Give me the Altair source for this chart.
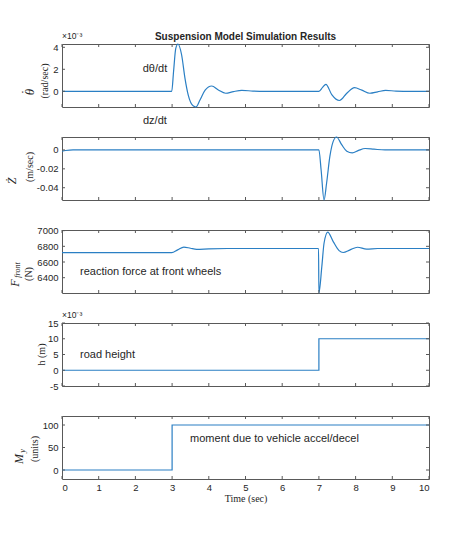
import altair as alt
import pandas as pd

# ---------------- data ----------------
X_TICKS = [0, 1, 2, 3, 4, 5, 6, 7, 8, 9, 10]

# Panel 1: pitch rate d(theta)/dt, in units of 1e-3 rad/sec
theta_t = [0, 2.99, 3.04, 3.10, 3.16, 3.26, 3.35, 3.44, 3.58, 3.65, 3.76, 3.90, 4.08,
           4.26, 4.46, 4.67, 4.90, 5.20, 5.50, 6.0, 7.0, 7.10, 7.19, 7.35, 7.56, 7.76,
           7.97, 8.17, 8.39, 8.60, 8.82, 9.10, 9.50, 10]
theta_v = [0, 0, 1.8, 3.9, 4.3, 3.3, 1.2, -0.35, -1.35, -1.43, -0.8, 0.1, 0.48,
           0.12, -0.18, -0.03, 0.08, 0.02, -0.01, 0, 0, 0.35, 0.63, -0.3, -0.84, -0.18,
           0.33, 0.1, -0.18, -0.05, 0.08, 0.02, 0, 0]
theta_ticks = [0, 2, 4]
theta_domain = [-1.43, 4.3]

# Panel 2: heave rate dz/dt (m/sec)
z_t = [0, 0.1, 0.3, 7.0, 7.06, 7.14, 7.21, 7.30, 7.39, 7.48, 7.62, 7.76, 7.91,
       8.08, 8.26, 8.50, 8.80, 10]
z_v = [-0.0012, -0.0006, 0, 0, -0.021, -0.053, -0.035, -0.0066, 0.0091, 0.0137,
       0.0056, -0.0014, -0.0032, -0.0005, 0.0015, 0.0008, 0, 0]
z_ticks = [-0.04, -0.02, 0]
z_domain = [-0.053, 0.0137]

# Panel 3: reaction force at front wheels (N)
f_t = [0, 2.99, 3.15, 3.32, 3.50, 3.67, 4.0, 4.5, 6.99, 7.0, 7.08, 7.14, 7.24,
       7.39, 7.55, 7.66, 7.85, 8.05, 8.30, 8.60, 10]
f_v = [6720, 6720, 6755, 6790, 6775, 6762, 6768, 6772, 6772, 6205, 6544, 6839, 6982,
       6860, 6745, 6721, 6755, 6788, 6765, 6772, 6772]
f_ticks = [6400, 6600, 6800, 7000]
f_domain = [6205, 7008]

# Panel 4: road height, in units of 1e-3 m
h_t = [0, 7, 7, 10]
h_v = [0, 0, 10, 10]
h_ticks = [-5, 0, 5, 10, 15]
h_domain = [-5, 15]

# Panel 5: moment due to vehicle accel/decel (units)
m_t = [0, 3, 3, 10]
m_v = [0, 0, 100, 100]
m_ticks = [0, 50, 100]
m_domain = [-20, 120]

# ---------------- styling ----------------
W, H = 367, 63
TL = 3  # inward tick length
LINE = "#2a7fc4"
FRAME = "#595959"
TXT = "#262626"
SANS = "Liberation Sans"
SERIF = "Liberation Serif"


def panel(t, v, domain, ticks, interp="monotone", bottom=False,
          notes=(), side=(), extra=()):
    df = pd.DataFrame({"t": t, "v": v, "i": list(range(len(t)))})
    xs = alt.Scale(domain=[0, 10], nice=False, zero=False)
    ys = alt.Scale(domain=domain, nice=False, zero=False)
    if bottom:
        xaxis = alt.Axis(values=X_TICKS, ticks=False, domain=False, grid=False,
                         labelExpr="'' + datum.value", labelFont=SANS,
                         labelFontSize=9.5, labelColor=TXT, labelPadding=3,
                         title="Time (sec)", titleFont=SERIF, titleFontSize=10,
                         titleFontWeight="normal", titleColor=TXT, titlePadding=2)
    else:
        xaxis = None
    x = alt.X("t:Q", scale=xs, axis=xaxis)
    y = alt.Y("v:Q", scale=ys,
              axis=alt.Axis(values=ticks, ticks=False, domain=False, grid=False,
                            labelExpr="'' + datum.value", labelFont=SANS,
                            labelFontSize=9.5, labelColor=TXT, labelPadding=4,
                            title=None))
    layers = []
    line = alt.Chart(df).mark_line(color=LINE, strokeWidth=1.2, interpolate=interp).encode(
        x=x, y=y, order="i:Q")
    layers.append(line)

    xt = pd.DataFrame({"t": X_TICKS})
    yt = pd.DataFrame({"v": ticks})
    layers.append(alt.Chart(xt).mark_rule(color=FRAME, strokeWidth=1).encode(
        x=x, y=alt.value(0), y2=alt.value(TL)))
    layers.append(alt.Chart(xt).mark_rule(color=FRAME, strokeWidth=1).encode(
        x=x, y=alt.value(H), y2=alt.value(H - TL)))
    layers.append(alt.Chart(yt).mark_rule(color=FRAME, strokeWidth=1).encode(
        y=y, x=alt.value(0), x2=alt.value(TL)))
    layers.append(alt.Chart(yt).mark_rule(color=FRAME, strokeWidth=1).encode(
        y=y, x=alt.value(W), x2=alt.value(W - TL)))

    # annotations placed in data coordinates
    for (nt, nv, s) in notes:
        nd = pd.DataFrame({"t": [nt], "v": [nv], "s": [s]})
        layers.append(alt.Chart(nd).mark_text(
            font=SANS, fontSize=11, color=TXT, align="left", baseline="middle").encode(
            x=x, y=y, text="s:N"))
    # y-label pieces (rotated) and other text outside the plot area
    for (s, dx, dy, size, style, angle, align) in list(side) + list(extra):
        sd = pd.DataFrame({"s": [s]})
        kw = dict(font=SERIF if angle else SANS, fontSize=size, color=TXT,
                  align=align, baseline="middle", fontStyle=style)
        if angle:
            kw["angle"] = angle
        layers.append(alt.Chart(sd).mark_text(**kw).encode(
            x=alt.value(dx), y=alt.value(dy), text="s:N"))
    return alt.layer(*layers).properties(width=W, height=H)


p1 = panel(theta_t, theta_v, theta_domain, theta_ticks,
           notes=[(2.2, 2.0, "dθ/dt")],
           side=[("θ", -32, 48, 13, "italic", 270, "center"),
                 ("˙", -36, 48, 13, "normal", 270, "center"),
                 ("(rad/sec)", -17, 37, 10, "normal", 270, "center")],
           extra=[("×10⁻³", 0, -8, 8.5, "normal", 0, "left")])
p1 = alt.layer(
    p1,
    alt.Chart(pd.DataFrame({"s": ["Suspension Model Simulation Results"]})).mark_text(
        font=SANS, fontSize=10, fontWeight="bold", color=TXT, align="center",
        baseline="middle").encode(x=alt.value(W / 2), y=alt.value(-7), text="s:N"))

p2 = panel(z_t, z_v, z_domain, z_ticks,
           side=[("Ż", -50, 44, 12, "italic", 270, "center"),
                 ("(m/sec)", -32, 30, 10, "normal", 270, "center")],
           extra=[("dz/dt", 81, -16, 11, "normal", 0, "left")])

p3 = panel(f_t, f_v, f_domain, f_ticks,
           notes=[(0.49, 6471, "reaction force at front wheels")],
           side=[("F", -47, 53, 12, "italic", 270, "center"),
                 ("front", -44, 40, 8, "italic", 270, "center"),
                 ("(N)", -33, 44, 10, "normal", 270, "center")])

p4 = panel(h_t, h_v, h_domain, h_ticks, interp="linear",
           notes=[(0.49, 4.8, "road height")],
           side=[("h (m)", -20, H / 2, 10, "normal", 270, "center")],
           extra=[("×10⁻³", 0, -8, 8.5, "normal", 0, "left")])

p5 = panel(m_t, m_v, m_domain, m_ticks, interp="linear", bottom=True,
           notes=[(3.49, 70, "moment due to vehicle accel/decel")],
           side=[("M", -43, 43, 12, "italic", 270, "center"),
                 ("y", -39, 35, 8, "italic", 270, "center"),
                 ("(units)", -27, 33, 10, "normal", 270, "center")])

chart = alt.vconcat(p1, p2, p3, p4, p5, spacing=30, bounds="flush").properties(
    padding={"left": 5, "top": 31, "right": 5, "bottom": 5}
).configure_view(stroke=FRAME, strokeWidth=1)

chart.save("out.html", embed_options={"renderer": "svg", "actions": False})
